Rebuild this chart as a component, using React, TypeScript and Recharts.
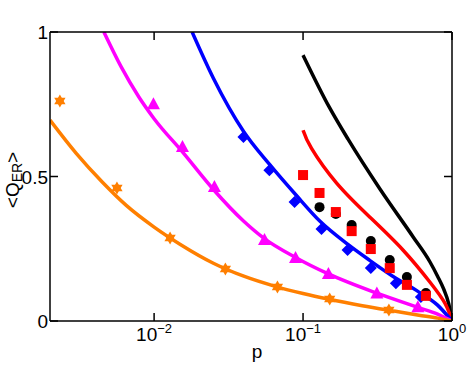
import { ComposedChart, Line, Scatter, XAxis, YAxis } from "recharts";

type Pt = [number, number];

const FONT = "'Liberation Sans', Arial, sans-serif";

const pDomain = [0.002, 1];
const decadeTicks = [0.01, 0.1, 1];
const qTicks = [0, 0.5, 1];
const qTickLabels: Record<number, string> = { 0: "0", 0.5: "0.5", 1: "1" };

// fitted curves, [p, <Q_ER>]
const orangeCurve: Pt[] = [
  [0.002, 0.695], [0.003, 0.58], [0.0045, 0.48], [0.0065, 0.4], [0.01, 0.325],
  [0.015, 0.265], [0.025, 0.2], [0.04, 0.155], [0.065, 0.12], [0.1, 0.095],
  [0.15, 0.075], [0.25, 0.053], [0.4, 0.035], [0.6, 0.02], [0.8, 0.01], [1, 0],
];
const magentaCurve: Pt[] = [
  [0.0046, 1.0], [0.006, 0.88], [0.0079, 0.775], [0.01, 0.7], [0.0155, 0.585],
  [0.025, 0.455], [0.04, 0.345], [0.055, 0.285], [0.089, 0.22], [0.148, 0.163],
  [0.31, 0.097], [0.59, 0.047], [0.8, 0.024], [1, 0],
];
const blueCurve: Pt[] = [
  [0.018, 1.0], [0.025, 0.84], [0.04, 0.655], [0.06, 0.54], [0.09, 0.435],
  [0.13, 0.345], [0.2, 0.265], [0.28, 0.21], [0.4, 0.155], [0.6, 0.1],
  [0.8, 0.055], [1, 0],
];
const redCurve: Pt[] = [
  [0.1, 0.66], [0.114, 0.597], [0.168, 0.477], [0.28, 0.36], [0.47, 0.245],
  [0.71, 0.135], [0.9, 0.06], [1, 0],
];
const blackCurve: Pt[] = [
  [0.1, 0.92], [0.15, 0.74], [0.2, 0.63], [0.33, 0.455], [0.55, 0.29],
  [0.71, 0.205], [0.8, 0.155], [0.88, 0.11], [0.95, 0.06], [1, 0],
];

// simulation points
const orangeStars: Pt[] = [
  [0.00233, 0.761], [0.00563, 0.46], [0.0128, 0.287], [0.0301, 0.18],
  [0.0673, 0.118], [0.151, 0.076], [0.377, 0.038],
];
const magentaTriangles: Pt[] = [
  [0.0099, 0.75], [0.0155, 0.602], [0.0254, 0.464], [0.0551, 0.28],
  [0.089, 0.218], [0.148, 0.163], [0.313, 0.095], [0.59, 0.048],
];
const blueDiamonds: Pt[] = [
  [0.0398, 0.637], [0.0594, 0.522], [0.0877, 0.412], [0.133, 0.318],
  [0.199, 0.246], [0.285, 0.183], [0.42, 0.131], [0.618, 0.083],
];
const blackCircles: Pt[] = [
  [0.129, 0.394], [0.166, 0.37], [0.212, 0.332], [0.285, 0.277],
  [0.382, 0.211], [0.498, 0.152], [0.668, 0.097],
];
const redSquares: Pt[] = [
  [0.1, 0.505], [0.129, 0.443], [0.166, 0.377], [0.212, 0.311],
  [0.285, 0.249], [0.382, 0.183], [0.498, 0.125], [0.668, 0.087],
];

const rows = (pts: Pt[]) => pts.map(([p, q]) => ({ p, q }));

// eslint-disable-next-line @typescript-eslint/no-explicit-any
function Star({ cx, cy }: any) {
  const r = 6.5;
  const tri = (rot: number) =>
    [0, 1, 2]
      .map((i) => {
        const a = rot + (i * 2 * Math.PI) / 3;
        return `${cx + r * Math.sin(a)},${cy - r * Math.cos(a)}`;
      })
      .join(" ");
  return (
    <g fill="#ff7f00">
      <polygon points={tri(0)} />
      <polygon points={tri(Math.PI)} />
    </g>
  );
}

// eslint-disable-next-line @typescript-eslint/no-explicit-any
function Triangle({ cx, cy }: any) {
  return <polygon points={`${cx},${cy - 7} ${cx + 6.5},${cy + 5} ${cx - 6.5},${cy + 5}`} fill="#ff00ff" />;
}

// eslint-disable-next-line @typescript-eslint/no-explicit-any
function Diamond({ cx, cy }: any) {
  return <polygon points={`${cx},${cy - 6} ${cx + 6},${cy} ${cx},${cy + 6} ${cx - 6},${cy}`} fill="#0000ff" />;
}

// eslint-disable-next-line @typescript-eslint/no-explicit-any
function Square({ cx, cy }: any) {
  return <rect x={cx - 5} y={cy - 5} width={10} height={10} fill="#ff0000" />;
}

// eslint-disable-next-line @typescript-eslint/no-explicit-any
function Dot({ cx, cy }: any) {
  return <circle cx={cx} cy={cy} r={5} fill="#000" />;
}

// eslint-disable-next-line @typescript-eslint/no-explicit-any
function BottomTick({ x, y, payload }: any) {
  const exp = Math.round(Math.log10(payload.value));
  return (
    <g>
      <line x1={x} y1={y} x2={x} y2={y - 8} stroke="#000" strokeWidth={1.5} />
      <text x={x} y={y + 20} textAnchor="middle" fontSize={19} fontFamily={FONT} fill="#000">
        10
        <tspan dy={-8} fontSize={13}>
          {exp === 0 ? "0" : "\u2212" + -exp}
        </tspan>
      </text>
    </g>
  );
}

// eslint-disable-next-line @typescript-eslint/no-explicit-any
function TopTick({ x, y }: any) {
  return <line x1={x} y1={y} x2={x} y2={y + 8} stroke="#000" strokeWidth={1.5} />;
}

// eslint-disable-next-line @typescript-eslint/no-explicit-any
function LeftTick({ x, y, payload }: any) {
  return (
    <g>
      <line x1={x} y1={y} x2={x + 8} y2={y} stroke="#000" strokeWidth={1.5} />
      <text x={x - 2} y={y + 7} textAnchor="end" fontSize={19} fontFamily={FONT} fill="#000">
        {qTickLabels[payload.value]}
      </text>
    </g>
  );
}

// eslint-disable-next-line @typescript-eslint/no-explicit-any
function RightTick({ x, y }: any) {
  return <line x1={x} y1={y} x2={x - 8} y2={y} stroke="#000" strokeWidth={1.5} />;
}

function YTitle() {
  return (
    <text transform="translate(19,180) rotate(-90)" textAnchor="middle" fontSize={19} fontFamily={FONT} fill="#000">
      {"<Q"}
      <tspan dy={3} fontSize={14}>
        ER
      </tspan>
      <tspan dy={-3}>{">"}</tspan>
    </text>
  );
}

function XTitle() {
  return (
    <text x={257} y={358} textAnchor="middle" fontSize={19} fontFamily={FONT} fill="#000">
      p
    </text>
  );
}

const axisStroke = { stroke: "#000", strokeWidth: 1.5 };

export default function App() {
  const lineProps = { type: "monotone" as const, dataKey: "q", dot: false, strokeWidth: 3.5, isAnimationActive: false };
  return (
    <div style={{ position: "absolute", left: 0, top: 0, background: "#fff" }}>
      <ComposedChart width={474} height={366} margin={{ top: 31, right: 21, bottom: 44, left: 49 }}>
        <XAxis
          dataKey="p"
          type="number"
          scale="log"
          domain={pDomain}
          allowDataOverflow
          ticks={decadeTicks}
          height={1}
          tickSize={0}
          tickMargin={0}
          tickLine={false}
          tick={<BottomTick />}
          axisLine={axisStroke}
          label={<XTitle />}
        />
        <XAxis
          xAxisId="top"
          orientation="top"
          dataKey="p"
          type="number"
          scale="log"
          domain={pDomain}
          allowDataOverflow
          ticks={decadeTicks}
          height={1}
          tickSize={0}
          tickMargin={0}
          tickLine={false}
          tick={<TopTick />}
          axisLine={axisStroke}
        />
        <YAxis
          dataKey="q"
          type="number"
          domain={[0, 1]}
          allowDataOverflow
          ticks={qTicks}
          width={1}
          tickSize={0}
          tickMargin={0}
          tickLine={false}
          tick={<LeftTick />}
          axisLine={axisStroke}
          label={<YTitle />}
        />
        <YAxis
          yAxisId="right"
          orientation="right"
          dataKey="q"
          type="number"
          domain={[0, 1]}
          allowDataOverflow
          ticks={qTicks}
          width={1}
          tickSize={0}
          tickMargin={0}
          tickLine={false}
          tick={<RightTick />}
          axisLine={axisStroke}
        />
        <Line {...lineProps} data={rows(blackCurve)} stroke="#000" />
        <Line {...lineProps} type="natural" data={rows(redCurve)} stroke="#ff0000" />
        <Line {...lineProps} data={rows(blueCurve)} stroke="#0000ff" />
        <Line {...lineProps} data={rows(magentaCurve)} stroke="#ff00ff" />
        <Line {...lineProps} data={rows(orangeCurve)} stroke="#ff7f00" />
        <Scatter data={rows(orangeStars)} shape={<Star />} isAnimationActive={false} />
        <Scatter data={rows(magentaTriangles)} shape={<Triangle />} isAnimationActive={false} />
        <Scatter data={rows(blueDiamonds)} shape={<Diamond />} isAnimationActive={false} />
        <Scatter data={rows(blackCircles)} shape={<Dot />} isAnimationActive={false} />
        <Scatter data={rows(redSquares)} shape={<Square />} isAnimationActive={false} />
      </ComposedChart>
    </div>
  );
}
